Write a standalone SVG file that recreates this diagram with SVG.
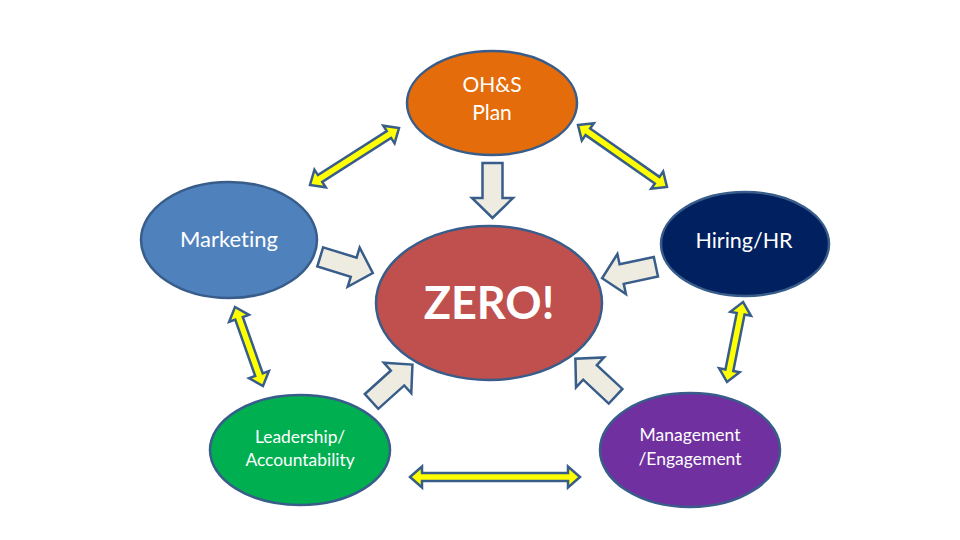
<svg xmlns="http://www.w3.org/2000/svg" xmlns:xlink="http://www.w3.org/1999/xlink" width="960" height="540" viewBox="0 0 960 540">
<style>
.node{stroke:#385d8a;stroke-width:2.5}
.lbl{fill:#ffffff;font-family:Lato,"Liberation Sans",sans-serif;text-anchor:middle;font-variant-ligatures:none}
.blk{fill:#eeece1;stroke:#385d8a;stroke-width:2.5;stroke-linejoin:miter}
.dbl{fill:#ffff00;stroke:#385d8a;stroke-width:2.5;stroke-linejoin:miter}
</style>
<defs>
<path id="blk" d="M-27.5,-10 L7.5,-10 L7.5,-20.5 L27.5,0 L7.5,20.5 L7.5,10 L-27.5,10 Z"/>
</defs>
<rect width="960" height="540" fill="#ffffff"/>
<g id="ohs">
<ellipse class="node" cx="492" cy="103" rx="85" ry="52" fill="#e46c0a"/>
<text class="lbl" x="492" y="92" font-size="21">OH&amp;S</text>
<text class="lbl" x="492" y="120" font-size="21">Plan</text>
</g>
<g id="marketing">
<ellipse class="node" cx="229" cy="240" rx="88" ry="58" fill="#4f81bd"/>
<text class="lbl" x="229" y="247" font-size="22">Marketing</text>
</g>
<g id="hiring">
<ellipse class="node" cx="745" cy="244" rx="84" ry="52" fill="#002060"/>
<text class="lbl" x="744" y="248" font-size="21.5">Hiring/HR</text>
</g>
<g id="zero">
<ellipse class="node" cx="489" cy="303" rx="113" ry="77" fill="#c0504d"/>
<text class="lbl" x="489" y="319" font-size="45" font-weight="bold">ZERO!</text>
</g>
<g id="leadership">
<ellipse class="node" cx="300" cy="450" rx="90" ry="55" fill="#00b050"/>
<text class="lbl" x="300" y="443" font-size="17.4">Leadership/</text>
<text class="lbl" x="300" y="466" font-size="17.4">Accountability</text>
</g>
<g id="management">
<ellipse class="node" cx="690" cy="450" rx="90" ry="57" fill="#7030a0"/>
<text class="lbl" x="690" y="441" font-size="17.5">Management</text>
<text class="lbl" x="690" y="465" font-size="17.5">/Engagement</text>
</g>
<g id="connectors">
<use xlink:href="#blk" href="#blk" class="blk" transform="translate(492.5,190.5) rotate(90)"/>
<use xlink:href="#blk" href="#blk" class="blk" transform="translate(346.5,265) rotate(17)"/>
<use xlink:href="#blk" href="#blk" class="blk" transform="translate(629,272.5) rotate(168)"/>
<use xlink:href="#blk" href="#blk" class="blk" transform="translate(392,383) rotate(-42)"/>
<use xlink:href="#blk" href="#blk" class="blk" transform="translate(595.5,377.5) rotate(-137)"/>
<path class="dbl" transform="translate(354.5,156.5) rotate(-32.6)" d="M-52.85,0 L-40.85,-10.5 L-40.85,-4 L40.85,-4 L40.85,-10.5 L52.85,0 L40.85,10.5 L40.85,4 L-40.85,4 L-40.85,10.5 Z"/>
<path class="dbl" transform="translate(622.5,156) rotate(34.9)" d="M-54.25,0 L-42.25,-10.5 L-42.25,-4 L42.25,-4 L42.25,-10.5 L54.25,0 L42.25,10.5 L42.25,4 L-42.25,4 L-42.25,10.5 Z"/>
<path class="dbl" transform="translate(735,342) rotate(101.3)" d="M-40.8,0 L-28.8,-10.5 L-28.8,-4 L28.8,-4 L28.8,-10.5 L40.8,0 L28.8,10.5 L28.8,4 L-28.8,4 L-28.8,10.5 Z"/>
<path class="dbl" transform="translate(249,346.5) rotate(70.5)" d="M-41.9,0 L-29.9,-10.5 L-29.9,-4 L29.9,-4 L29.9,-10.5 L41.9,0 L29.9,10.5 L29.9,4 L-29.9,4 L-29.9,10.5 Z"/>
<path class="dbl" transform="translate(495,477)" d="M-85,0 L-73,-10.5 L-73,-4 L73,-4 L73,-10.5 L85,0 L73,10.5 L73,4 L-73,4 L-73,10.5 Z"/>
</g>
</svg>
